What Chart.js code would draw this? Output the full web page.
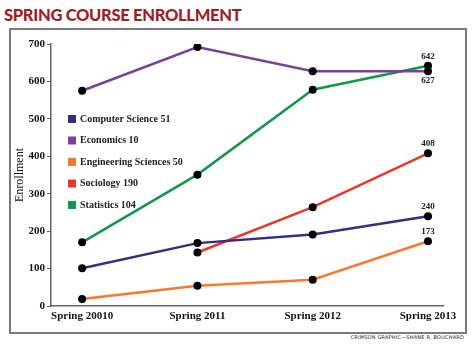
<!DOCTYPE html>
<html>
<head>
<meta charset="utf-8">
<script src="https://cdn.jsdelivr.net/npm/chart.js@4.4.0/dist/chart.umd.min.js"></script>
<style>
  html, body { margin: 0; padding: 0; background: #fff; }
  body { width: 474px; height: 344px; position: relative; overflow: hidden; }
  #title { position: absolute; left: 4px; top: 5px; font: 900 16.5px Lato, sans-serif; color: #9e1f26; letter-spacing: -0.3px; }
  #frame { position: absolute; left: 9px; top: 28px; width: 454px; height: 302px; border: 2px solid #7a7a7a; }
  #credit { position: absolute; right: 10px; top: 334px; font: 5px "DejaVu Sans", sans-serif; color: #222; letter-spacing: 0.2px; }
  #wrap { position: absolute; left: 0; top: 0; width: 474px; height: 344px; }
</style>
</head>
<body>
<div id="title">SPRING COURSE ENROLLMENT</div>
<div id="frame"></div>
<div id="credit">CRIMSON GRAPHIC—SHANE R. BOUCHARD</div>
<div id="wrap"><canvas id="chart"></canvas></div>
<script>
// datos
const semesters = ['Spring 20010', 'Spring 2011', 'Spring 2012', 'Spring 2013'];
const courseNames = ['Computer Science 51', 'Economics 10', 'Engineering Sciences 50', 'Sociology 190', 'Statistics 104'];
const compSci = [101, 168, 191, 240];
const economics = [575, 692, 627, 627];
const engineering = [19, 54, 70, 173];
const sociology = [null, 143, 264, 408];
const statistics = [170, 351, 578, 642];
const yTicks = [0, 100, 200, 300, 400, 500, 600, 700];

const colors = ['#3b2a86', '#7d3f98', '#f47b2b', '#e8382b', '#10994a'];
const series = [compSci, economics, engineering, sociology, statistics];
// posición de la etiqueta final: arriba o abajo del punto
const labelBelow = [false, true, false, false, false];

const serif = '"Liberation Serif", "DejaVu Serif", serif';

const datasets = series.map((vals, i) => ({
    label: courseNames[i],
    data: vals.map((v, j) => ({ x: j, y: v })),
    borderColor: colors[i],
    backgroundColor: colors[i],
    borderWidth: 2.5,
    pointRadius: 4,
    pointBackgroundColor: '#000',
    pointBorderColor: '#000',
    pointBorderWidth: 0,
    tension: 0,
    spanGaps: false
}));

// leyenda dentro del área del gráfico
const insideLegend = {
    id: 'insideLegend',
    afterDraw(chart) {
        const ctx = chart.ctx;
        ctx.save();
        ctx.font = 'bold 10px ' + serif;
        ctx.textBaseline = 'middle';
        chart.data.datasets.forEach((ds, i) => {
            const y = 119 + i * 21.5;
            ctx.fillStyle = ds.borderColor;
            ctx.fillRect(68, y - 4, 8, 8);
            ctx.fillStyle = '#222';
            ctx.fillText(ds.label, 80, y);
        });
        ctx.restore();
    }
};

// etiquetas de valor en el último punto
const endLabels = {
    id: 'endLabels',
    afterDatasetsDraw(chart) {
        const ctx = chart.ctx;
        ctx.save();
        ctx.font = 'bold 9px ' + serif;
        ctx.fillStyle = '#222';
        ctx.textAlign = 'center';
        chart.data.datasets.forEach((ds, i) => {
            const meta = chart.getDatasetMeta(i);
            const last = meta.data[meta.data.length - 1];
            const v = series[i][series[i].length - 1];
            if (labelBelow[i]) {
                ctx.textBaseline = 'top';
                ctx.fillText(v, last.x, last.y + 5);
            } else {
                ctx.textBaseline = 'bottom';
                ctx.fillText(v, last.x, last.y - 5);
            }
        });
        ctx.restore();
    }
};

new Chart(document.getElementById('chart'), {
    type: 'line',
    data: { datasets },
    options: {
        responsive: true,
        maintainAspectRatio: false,
        animation: false,
        layout: { padding: { left: 0, top: 44, right: 31, bottom: 0 } },
        plugins: {
            legend: { display: false },
            tooltip: { enabled: false }
        },
        scales: {
            x: {
                type: 'linear',
                min: -0.27,
                max: 3.13,
                afterBuildTicks: (scale) => { scale.ticks = semesters.map((s, i) => ({ value: i })); },
                afterFit: (scale) => { scale.height = 38; },
                grid: { display: false, drawTicks: false },
                border: { display: true, color: '#666', width: 1.5 },
                ticks: {
                    padding: 4,
                    maxRotation: 0,
                    autoSkip: false,
                    color: '#111',
                    font: { family: serif, size: 11, weight: 'bold' },
                    callback: (v) => semesters[v]
                }
            },
            y: {
                min: 0,
                max: 700,
                afterBuildTicks: (scale) => { scale.ticks = yTicks.map(v => ({ value: v })); },
                afterFit: (scale) => { scale.width = 51; },
                grid: { drawOnChartArea: false, drawTicks: true, tickLength: 4, color: '#666' },
                border: { display: true, color: '#666', width: 1.5 },
                title: {
                    display: true,
                    text: 'Enrollment',
                    color: '#111',
                    padding: { top: 13, bottom: 0 },
                    font: { family: serif, size: 12 }
                },
                ticks: {
                    padding: 2,
                    color: '#111',
                    font: { family: serif, size: 11, weight: 'bold' }
                }
            }
        }
    },
    plugins: [insideLegend, endLabels]
});
</script>
</body>
</html>
